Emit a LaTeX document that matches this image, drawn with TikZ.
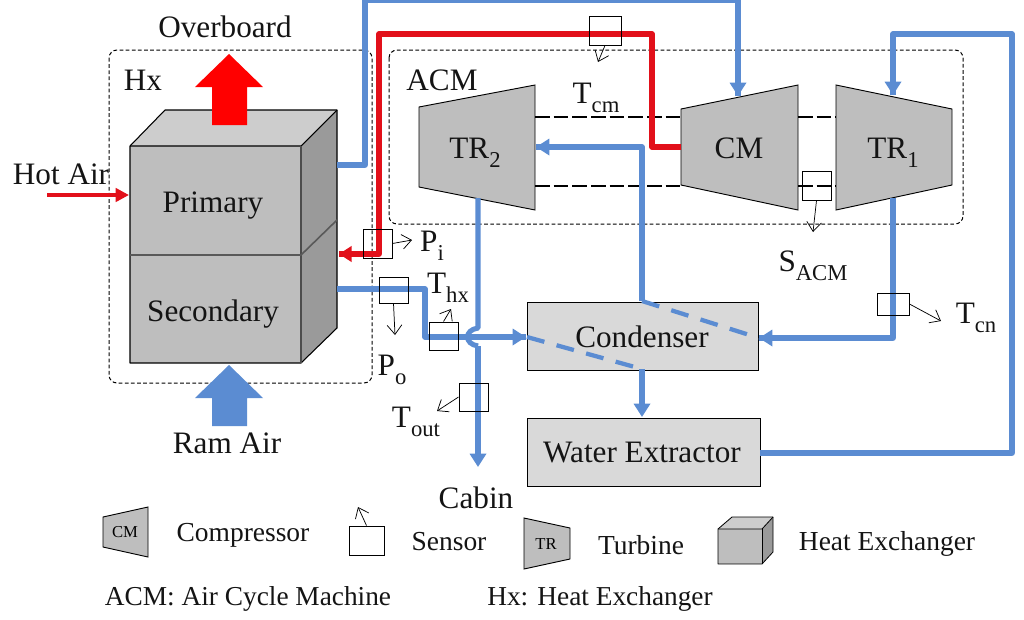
\documentclass[tikz,border=0pt]{standalone}
\usepackage{fontspec}
\setmainfont{Liberation Serif}
\usetikzlibrary{arrows.meta}
\definecolor{flowblue}{HTML}{5B8CD2}
\definecolor{flowred}{HTML}{E2101A}
\definecolor{bigred}{HTML}{FF0000}
\definecolor{facegray}{HTML}{BEBEBE}
\definecolor{sidegray}{HTML}{9A9A9A}
\definecolor{topgray}{HTML}{CDCDCD}
\definecolor{boxgray}{HTML}{D9D9D9}
\newcommand{\lowtxt}[1]{\raisebox{-0.28em}{\fontsize{17}{17}\selectfont #1}}
\tikzset{
  lab/.style={inner sep=0pt,font=\fontsize{23.4}{26}\selectfont,text=black!92},
  leg/.style={inner sep=0pt,font=\fontsize{20.6}{24}\selectfont,text=black!92},
  foot/.style={inner sep=0pt,font=\fontsize{20.5}{24}\selectfont,text=black!92},
  sensorbox/.style={draw=black,line width=0.7pt,inner sep=0pt,fill=none},
  unit/.style={draw=black,line width=0.7pt,fill=boxgray,inner sep=0pt},
  machine/.style={draw=black,line width=0.7pt,fill=facegray},
  dashbox/.style={draw=black,line width=0.75pt,dash pattern=on 2.8pt off 1.8pt,rounded corners=6pt},
  blueline/.style={draw=flowblue,line width=3.8pt,line join=round},
  redline/.style={draw=flowred,line width=3.8pt,line join=round},
  bluearrow/.style={blueline,-{Triangle[length=10pt,width=12pt]}},
  redarrow/.style={redline,-{Triangle[length=9.5pt,width=11.5pt]}},
  thinred/.style={draw=flowred,line width=2.8pt,-{Triangle[length=10pt,width=10pt]}},
  probe/.style={draw=black,line width=0.55pt,-{Straight Barb[length=7pt,width=11pt]}},
  shaftthin/.style={draw=black,line width=0.8pt,dash pattern=on 11pt off 3pt},
  shaftthick/.style={draw=black,line width=1.6pt,dash pattern=on 11pt off 3pt},
  flowdash/.style={draw=flowblue,line width=3.2pt,dash pattern=on 13.5pt off 9.5pt},
}
\begin{document}
\begin{tikzpicture}[x=0.75pt,y=-0.75pt]
\useasboundingbox (0,0) rectangle (1024,619);
% dashed frames
\draw[dashbox] (109,50) rectangle (372,383);
\draw[dashbox] (389,50) rectangle (963,224);
% heat exchanger cube
\fill[topgray] (130,146) -- (165,110) -- (337,110) -- (301,146) -- cycle;
\fill[sidegray] (301,146) -- (337,110) -- (337,328) -- (301,363) -- cycle;
\fill[facegray] (130,146) rectangle (301,363);
\draw[black,line width=0.8pt,line join=round] (130,146) -- (165,110) -- (337,110) -- (337,328) -- (301,363) -- (130,363) -- cycle;
\draw[black,line width=0.8pt] (130,146) -- (301,146) -- (337,110);
\draw[black!70,line width=1pt] (301,146) -- (301,363);
\draw[black!65,line width=1.2pt] (130,255) -- (301,255) -- (337,220);
% big arrows
\fill[bigred] (229,54) -- (263,87) -- (247,87) -- (247,125) -- (212,125) -- (212,87) -- (195,87) -- cycle;
\fill[flowblue] (229,365) -- (263,398) -- (247,398) -- (247,426) -- (212,426) -- (212,398) -- (195,398) -- cycle;
% machines
\draw[machine] (419,107) -- (535,85) -- (535,210) -- (419,187) -- cycle;
\draw[machine] (681,109) -- (798,85) -- (798,210) -- (681,185) -- cycle;
\draw[machine] (836,85) -- (952,109) -- (952,185) -- (836,210) -- cycle;
% shafts
\coordinate (trtwoa) at (535,117); \coordinate (cmaa) at (681,117);
\coordinate (cmab) at (798,117); \coordinate (tronea) at (836,117);
\coordinate (trtwob) at (535,186); \coordinate (cmba) at (681,186);
\coordinate (cmbb) at (798,186); \coordinate (troneb) at (836,186);
\draw[shaftthin] (trtwoa) -- (cmaa);
\draw[shaftthin] (cmab) -- (tronea);
\draw[shaftthick] (trtwob) -- (cmba);
\draw[shaftthick] (cmbb) -- (troneb);
% units
\node[unit,minimum width=173.25pt,minimum height=51pt] (cond) at (642.5,336) {};
\node[unit,minimum width=174.75pt,minimum height=51pt] (wex) at (643.5,452) {};
% coordinates of flow paths
\coordinate (hotin) at (47,195); \coordinate (hotend) at (129,195);
\coordinate (priout) at (337,165); \coordinate (pria) at (365,165);
\coordinate (prib) at (365,0); \coordinate (pric) at (738,0); \coordinate (cmin) at (738,96);
\coordinate (cmout) at (681,147); \coordinate (reda) at (652,147);
\coordinate (redb) at (652,34); \coordinate (redc) at (379,34);
\coordinate (redd) at (379,254); \coordinate (rede) at (339,254);
\coordinate (secout) at (337,289); \coordinate (seca) at (425,289);
\coordinate (secb) at (425,337); \coordinate (condin) at (526,337);
\coordinate (trout) at (478,198); \coordinate (hopa) at (478,328);
\coordinate (hopb) at (478,346); \coordinate (cabin) at (478,467);
\coordinate (conda) at (642,147); \coordinate (condtop) at (642,301);
\coordinate (trin) at (536,147); \coordinate (condr) at (759,338);
\coordinate (condl) at (527,337); \coordinate (condlow) at (642,369);
\coordinate (wexin) at (642,417); \coordinate (tronout) at (893,198);
\coordinate (trona) at (893,338); \coordinate (wexout) at (760,453);
\coordinate (wexa) at (1012,453); \coordinate (wexb) at (1012,34);
\coordinate (wexc) at (893,34); \coordinate (tronin) at (893,95);
% flows
\draw[thinred] (hotin) -- (hotend);
\draw[blueline] (priout) -- (pria) -- (prib) -- (pric) -- (cmin);
\draw[bluearrow] (pric) -- (cmin);
\draw[redline] (cmout) -- (reda) -- (redb) -- (redc) -- (redd) -- (rede);
\draw[redarrow] (redd) -- (rede);
\draw[blueline] (secout) -- (seca) -- (secb) -- (condin);
\draw[bluearrow] (secb) -- (condin);
\draw[blueline] (trout) -- (hopa) .. controls (464,330) and (464,344) .. (hopb);
\draw[bluearrow] (hopb) -- (cabin);
\draw[blueline] (condtop) -- (conda) -- (trin);
\draw[bluearrow] (conda) -- (trin);
\draw[flowdash] (condtop) -- (condr);
\draw[flowdash] (condl) -- (condlow);
\draw[bluearrow] (condlow) -- (wexin);
\draw[blueline] (tronout) -- (trona) -- (condr);
\draw[bluearrow] (trona) -- (condr);
\draw[blueline] (wexout) -- (wexa) -- (wexb) -- (wexc) -- (tronin);
\draw[bluearrow] (wexc) -- (tronin);
% sensors
\node[sensorbox,minimum width=21.75pt,minimum height=21.75pt] (spi) at (377.5,243.5) {};
\node[sensorbox,minimum width=21.75pt,minimum height=19.5pt] (spo) at (393.5,290) {};
\node[sensorbox,minimum width=21.75pt,minimum height=21pt] (sthx) at (443.5,336) {};
\node[sensorbox,minimum width=21.75pt,minimum height=21pt] (stout) at (473.5,397) {};
\node[sensorbox,minimum width=24pt,minimum height=21.75pt] (stcm) at (605,30.5) {};
\node[sensorbox,minimum width=21.75pt,minimum height=21.75pt] (ssacm) at (816.5,185.5) {};
\node[sensorbox,minimum width=24pt,minimum height=16.5pt] (stcn) at (893,304) {};
\coordinate (ppi) at (412,240); \coordinate (ppo) at (395,335);
\coordinate (pthx) at (451,309); \coordinate (ptout) at (437,411);
\coordinate (ptcm) at (598,62); \coordinate (psacm) at (813,232);
\coordinate (ptcn) at (941,321);
\draw[probe] (spi.east) -- (ppi);
\draw[probe] (spo.south) -- (ppo);
\draw[probe] (sthx.north) -- (pthx);
\draw[probe] (stout.west) -- (ptout);
\draw[probe] (stcm.south) -- (ptcm);
\draw[probe] (ssacm.south) -- (psacm);
\draw[probe] (stcn.east) -- (ptcn);
% labels
\node[lab] (overboard) at (225,27) {Overboard};
\node[lab] (hx) at (143,80) {Hx};
\node[lab] (hot) at (61,174) {Hot Air};
\node[lab] (primary) at (213,206) {Primary};
\node[lab] (secondary) at (213,314) {Secondary};
\node[lab] (ram) at (227,443) {Ram Air};
\node[lab] (acm) at (442,80) {ACM};
\node[lab] (ltrtwo) at (475,153) {TR\lowtxt{2}};
\node[lab] (lcm) at (739,148) {CM};
\node[lab] (ltrone) at (893,153) {TR\lowtxt{1}};
\node[lab] (ltcm) at (596,98) {T\lowtxt{cm}};
\node[lab] (lpi) at (432,246) {P\lowtxt{i}};
\node[lab] (lthx) at (448,288) {T\lowtxt{hx}};
\node[lab] (lpo) at (392,370) {P\lowtxt{o}};
\node[lab] (ltout) at (416,422) {T\lowtxt{out}};
\node[lab] (lsacm) at (813,266) {S\lowtxt{ACM}};
\node[lab] (ltcn) at (976,318) {T\lowtxt{cn}};
\node[lab] (lcond) at (642,337) {Condenser};
\node[lab] (lwex) at (642,453) {Water Extractor};
\node[lab] (lcabin) at (476,498) {Cabin};
% legend
\draw[machine] (103,517) -- (148,507) -- (148,557) -- (103,547) -- cycle;
\node[inner sep=0pt,font=\fontsize{12.5}{14}\selectfont] (lgcm) at (125,532) {CM};
\node[leg] (lgcomp) at (243,535) {Compressor};
\node[sensorbox,minimum width=26.25pt,minimum height=21.75pt] (lgs) at (366.5,540.5) {};
\coordinate (lgp) at (358,507);
\draw[probe] (lgs.north) -- (lgp);
\node[leg] (lgsens) at (449,542) {Sensor};
\draw[machine] (524,518) -- (570,528) -- (570,559) -- (524,569) -- cycle;
\node[inner sep=0pt,font=\fontsize{12.5}{14}\selectfont] (lgtr) at (546,544) {TR};
\node[leg] (lgturb) at (641,545) {Turbine};
\fill[topgray] (718,529) -- (732,517) -- (773,517) -- (762,529) -- cycle;
\fill[sidegray] (762,529) -- (773,517) -- (773,552) -- (762,564) -- cycle;
\fill[facegray] (718,529) rectangle (762,564);
\draw[black,line width=0.6pt,line join=round] (718,529) -- (732,517) -- (773,517) -- (773,552) -- (762,564) -- (718,564) -- cycle;
\draw[black,line width=0.6pt] (718,529) -- (762,529) -- (773,517);
\draw[black,line width=0.6pt] (762,529) -- (762,564);
\node[leg] (lgheat) at (887,544) {Heat Exchanger};
\node[foot] (fa) at (248,599) {ACM: Air Cycle Machine};
\node[foot] (fb) at (600,599) {Hx: Heat Exchanger};
\end{tikzpicture}
\end{document}
